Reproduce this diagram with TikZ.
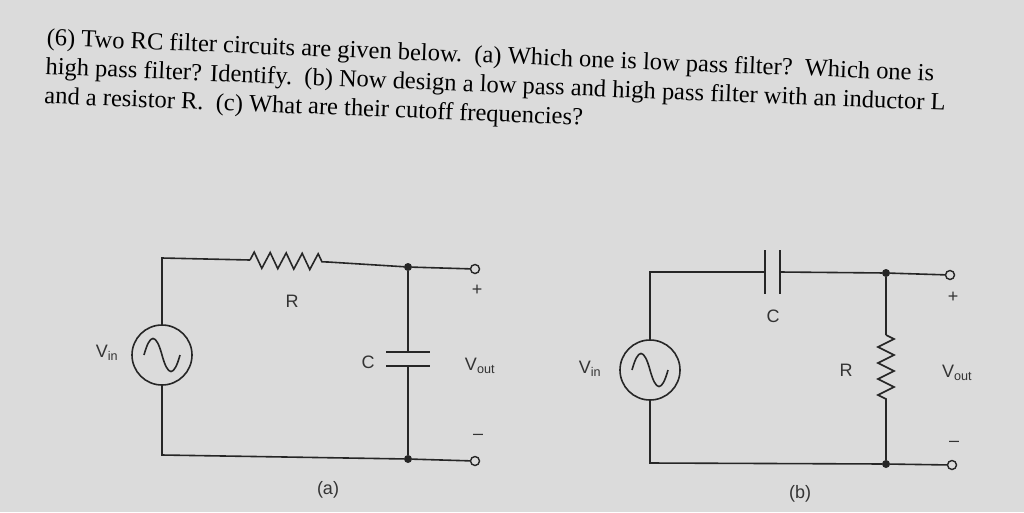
\documentclass[tikz,border=0pt]{standalone}
\usepackage{fontspec}
\setmainfont{Liberation Serif}
\newfontfamily\lab{Liberation Sans}
\usetikzlibrary{decorations.pathmorphing}
\tikzset{
 w/.style={line width=1.6pt, color=black!85},
 dotn/.style={circle, fill=black!85, inner sep=0pt, minimum size=8pt},
 term/.style={circle, draw=black!85, line width=1.4pt, fill=none, inner sep=0pt, minimum size=9pt},
 src/.style={circle, draw=black!85, line width=1.6pt, minimum size=60pt, inner sep=0pt},
 txt/.style={font=\fontsize{24.5}{29}\selectfont, anchor=north west, rotate=-2.3, inner sep=0pt, align=left},
 lb/.style={font=\lab\fontsize{18}{20}\selectfont, text=black!80},
 res/.style={decorate, decoration={zigzag, segment length=16pt, amplitude=8pt}}
}
\begin{document}
\begin{tikzpicture}[x=1pt,y=-1pt]
\fill[black!14] (0,0) rectangle (1024,512);
\node[txt] (q) at (47,28) {(6) Two RC filter circuits are given below.\ \ (a) Which one is low pass filter?\ \ Which one is\\high pass filter? Identify.\ \ (b) Now design a low pass and high pass filter with an inductor L\\and a resistor R.\ \ (c) What are their cutoff frequencies?};
% circuit a
\node[src] (sa) at (162,355) {};
\draw[w] (sa.center)+(-18,0) .. controls +(6,-22) and +(-6,-22) .. +(0,0) .. controls +(6,22) and +(-6,22) .. +(18,0);
\coordinate (a1) at (162,258);
\coordinate (ra) at (250,260);
\coordinate (rb) at (328,262);
\node[dotn] (da) at (408,267) {};
\node[term] (ta) at (475,269) {};
\node[dotn] (db) at (408,459) {};
\node[term] (tb) at (475,461) {};
\coordinate (a2) at (162,455);
\draw[w] (sa) -- (a1) -- (ra);
\draw[w,res] (ra) -- (rb);
\draw[w] (rb) -- (da) -- (ta);
\draw[w] (sa) -- (a2) -- (db) -- (tb);
\coordinate (ca) at (408,352);
\coordinate (cb) at (408,366);
\draw[w] (da) -- (ca); \draw[w] (cb) -- (db);
\draw[w] (386,352) -- (430,352); \draw[w] (386,366) -- (430,366);
\node[lb] (R1) at (292,301) {R};
\node[lb] (C1) at (368,362) {C};
\node[lb] (V1) at (107,353) {V\textsubscript{in}};
\node[lb] (O1) at (480,366) {V\textsubscript{out}};
\node[lb] (p1) at (477,290) {+};
\node[lb] (m1) at (478,437) {–};
\node[lb] (A) at (328,490) {(a)};
% circuit b
\node[src] (sb) at (650,370) {};
\draw[w] (sb.center)+(-18,0) .. controls +(6,-22) and +(-6,-22) .. +(0,0) .. controls +(6,22) and +(-6,22) .. +(18,0);
\coordinate (b1) at (650,272);
\coordinate (c1) at (765,272);
\coordinate (c2) at (780,272);
\node[dotn] (dc) at (886,273) {};
\node[term] (tc) at (950,275) {};
\coordinate (b2) at (650,463);
\node[dotn] (dd) at (886,464) {};
\node[term] (td) at (952,465) {};
\draw[w] (sb) -- (b1) -- (c1);
\draw[w] (765,250) -- (765,294); \draw[w] (780,250) -- (780,294);
\draw[w] (c2) -- (dc) -- (tc);
\draw[w] (sb) -- (b2) -- (dd) -- (td);
\coordinate (rc) at (886,335);
\coordinate (rd) at (886,405);
\draw[w] (dc) -- (rc); \draw[w,res] (rc) -- (rd); \draw[w] (rd) -- (dd);
\node[lb] (C2) at (773,316) {C};
\node[lb] (R2) at (846,370) {R};
\node[lb] (V2) at (590,369) {V\textsubscript{in}};
\node[lb] (O2) at (957,373) {V\textsubscript{out}};
\node[lb] (p2) at (953,297) {+};
\node[lb] (m2) at (954,444) {–};
\node[lb] (B) at (800,494) {(b)};
\end{tikzpicture}
\end{document}
